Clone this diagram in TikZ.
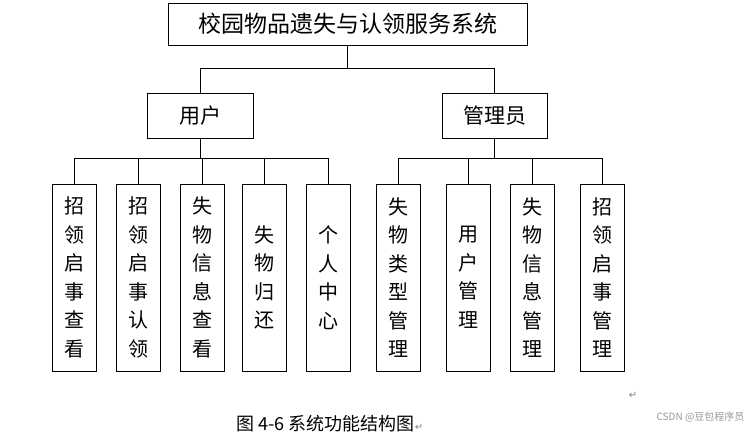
\documentclass[tikz,border=0pt]{standalone}
\usepackage{fontspec}
\newfontfamily\cjk{Noto Sans CJK SC}
\newfontfamily\dejavu{DejaVu Sans}
\begin{document}
\begin{tikzpicture}[x=1pt,y=-1pt,
  box/.style={draw,line width=0.8pt,inner sep=0pt,font=\cjk\fontsize{20}{28.5}\selectfont},
  vbox/.style={box,minimum width=44pt,minimum height=187pt,align=center},
  wire/.style={line width=0.8pt}]
\useasboundingbox (0,0) rectangle (753,432);
\node[box,minimum width=359pt,minimum height=42pt,font=\cjk\fontsize{23}{26}\selectfont] (top) at (347.5,24) {校园物品遗失与认领服务系统};
\node[box,minimum width=106pt,minimum height=45pt,font=\cjk\fontsize{21}{24}\selectfont] (u) at (200,115.5) {用户};
\node[box,minimum width=105pt,minimum height=45pt,font=\cjk\fontsize{21}{24}\selectfont] (m) at (494.5,115.5) {管理员};
\foreach \n/\x/\t in {a/74/招\\领\\启\\事\\查\\看, b/138/招\\领\\启\\事\\认\\领, c/202/失\\物\\信\\息\\查\\看, d/264/失\\物\\归\\还, e/328/个\\人\\中\\心,
  f/398/失\\物\\类\\型\\管\\理, g/468/用\\户\\管\\理, h/532/失\\物\\信\\息\\管\\理, i/602/招\\领\\启\\事\\管\\理}
  \node[vbox] (\n) at (\x,277.5) {\t};
\draw[wire] (top.south) -- ++(0,23) coordinate (t1);
\draw[wire] (u.north) |- (t1) -| (m.north);
\foreach \n in {a,b,c,d,e} \draw[wire] (u.south) -- ++(0,20) -| (\n.north);
\foreach \n in {f,g,h,i} \draw[wire] (m.south) -- ++(0,20) -| (\n.north);
\node[font=\dejavu\fontsize{10}{10}\selectfont,text=gray] (r) at (633,395) {↵};
\node[font=\cjk\fontsize{18}{20}\selectfont,anchor=west] (cap) at (233,424) {图 4-6 系统功能结构图\textcolor{gray}{\dejavu\fontsize{10}{10}\selectfont ↵}};
\node[font=\cjk\fontsize{10}{12}\selectfont,text=gray!80,anchor=east] (wm) at (748,417) {CSDN @豆包程序员};
\end{tikzpicture}
\end{document}
